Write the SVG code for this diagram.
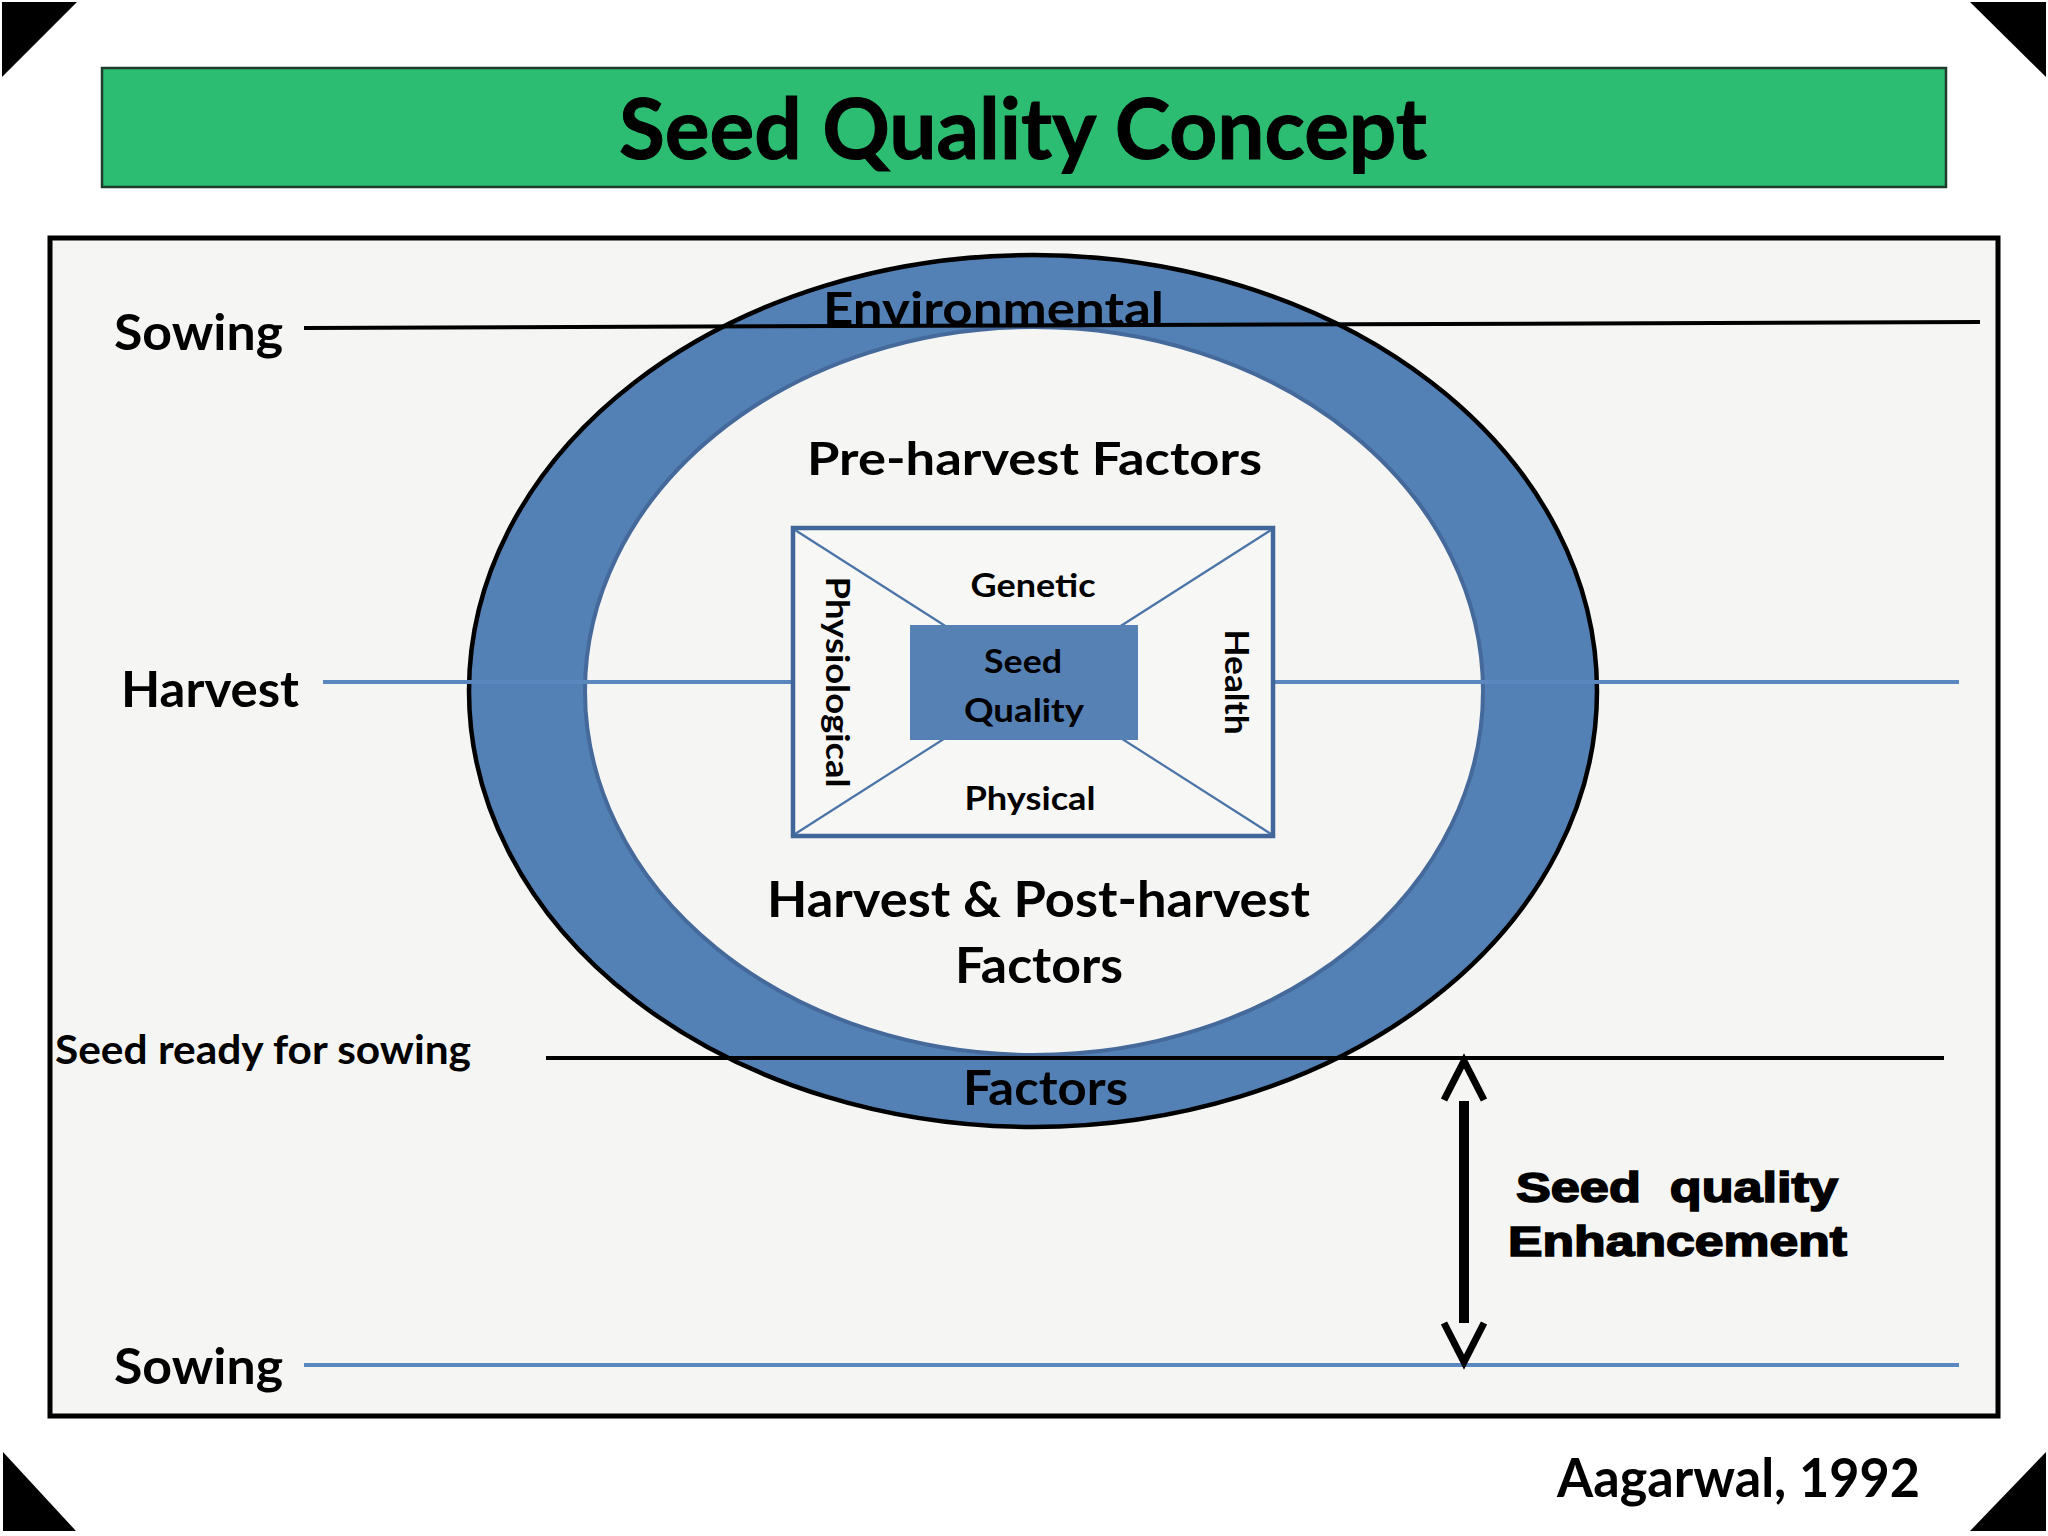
<svg xmlns="http://www.w3.org/2000/svg" width="2048" height="1536" viewBox="0 0 2048 1536">
<defs>
<style>
.t{font-family:Lato,"Open Sans","Liberation Sans",sans-serif;font-weight:700;fill:#000}
.a{font-family:"Liberation Sans",Arial,sans-serif;font-weight:700;fill:#000;stroke:#000;stroke-width:1.6}
.corner{fill:#000}
.bl{stroke:#000;stroke-width:4;fill:none}
.blu{stroke:#5a87bd;stroke-width:4;fill:none}
.diag{stroke:#4a73a8;stroke-width:2.2}
</style>
</defs>
<rect width="2048" height="1536" fill="#ffffff"/>
<g id="corners">
<polygon class="corner" points="2,2 77,2 2,77"/>
<polygon class="corner" points="1970,2 2046,2 2046,77"/>
<polygon class="corner" points="3,1452 3,1531 76,1531"/>
<polygon class="corner" points="2046,1452 2046,1531 1970,1531"/>
</g>
<g id="title">
<rect x="102" y="68" width="1844" height="119" fill="#2dbd72" stroke="#1e3b2c" stroke-width="2.5"/>
<text class="t" x="1023" y="159" font-size="85" text-anchor="middle" textLength="808" lengthAdjust="spacingAndGlyphs" stroke="#000" stroke-width="1">Seed Quality Concept</text>
</g>
<g id="frame">
<rect x="50" y="238" width="1948" height="1178" fill="#f5f5f3" stroke="#000" stroke-width="5"/>
</g>
<g id="outer-ring">
<ellipse cx="1033" cy="691" rx="564" ry="436" fill="#5381b5" stroke="#000" stroke-width="4.5"/>
</g>
<g id="inner-ellipse">
<ellipse cx="1034" cy="691" rx="449" ry="364" fill="#f5f5f3" stroke="#44699a" stroke-width="4"/>
</g>
<g id="connectors">
<line class="bl" x1="304" y1="328" x2="1980" y2="322"/>
<line class="blu" x1="323" y1="682" x2="793" y2="682"/>
<line class="blu" x1="1273" y1="682" x2="1959" y2="682"/>
<line class="bl" x1="546" y1="1058" x2="1944" y2="1058"/>
<line class="blu" x1="304" y1="1365" x2="1959" y2="1365"/>
<g id="arrow" stroke="#000" fill="none">
<path d="M1444,1100 L1464,1061 L1484,1100" stroke-width="7" stroke-linejoin="miter"/>
<line x1="1464" y1="1101" x2="1464" y2="1323" stroke-width="10"/>
<path d="M1444,1323 L1464,1362 L1484,1323" stroke-width="7" stroke-linejoin="miter"/>
</g>
</g>
<g id="quality-box">
<rect x="793" y="528" width="480" height="308" fill="#f7f7f5" stroke="#41679a" stroke-width="4.5"/>
<line class="diag" x1="795" y1="530" x2="1271" y2="834"/>
<line class="diag" x1="1271" y1="530" x2="795" y2="834"/>
<text class="t" x="1033" y="597" font-size="33" text-anchor="middle" textLength="125" lengthAdjust="spacingAndGlyphs">Genetic</text>
<text class="t" x="1030" y="810" font-size="33" text-anchor="middle" textLength="131" lengthAdjust="spacingAndGlyphs">Physical</text>
<text class="t" transform="translate(826,682) rotate(90)" x="0" y="0" font-size="33" text-anchor="middle" textLength="211" lengthAdjust="spacingAndGlyphs">Physiological</text>
<text class="t" transform="translate(1225,682) rotate(90)" x="0" y="0" font-size="33" text-anchor="middle" textLength="105" lengthAdjust="spacingAndGlyphs">Health</text>
</g>
<g id="seed-quality">
<rect x="910" y="625" width="228" height="115" fill="#5681b5"/>
<text class="t" x="1023" y="673" font-size="33" text-anchor="middle" textLength="78" lengthAdjust="spacingAndGlyphs">Seed</text>
<text class="t" x="1024" y="722" font-size="33" text-anchor="middle" textLength="120" lengthAdjust="spacingAndGlyphs">Quality</text>
</g>
<g id="ring-labels">
<text class="t" x="823" y="325" font-size="46" textLength="341" lengthAdjust="spacingAndGlyphs">Environmental</text>
<text class="t" x="963" y="1105" font-size="48" textLength="165" lengthAdjust="spacingAndGlyphs">Factors</text>
</g>
<g id="inner-labels">
<text class="t" x="807" y="475" font-size="46" textLength="455" lengthAdjust="spacingAndGlyphs">Pre-harvest Factors</text>
<text class="t" x="767" y="917" font-size="50" textLength="543" lengthAdjust="spacingAndGlyphs">Harvest &amp; Post-harvest</text>
<text class="t" x="955" y="983" font-size="50" textLength="168" lengthAdjust="spacingAndGlyphs">Factors</text>
</g>
<g id="stage-labels">
<text class="t" x="114" y="350" font-size="50" textLength="169" lengthAdjust="spacingAndGlyphs">Sowing</text>
<text class="t" x="121" y="707" font-size="50" textLength="178" lengthAdjust="spacingAndGlyphs">Harvest</text>
<text class="t" x="55" y="1064" font-size="40" textLength="416" lengthAdjust="spacingAndGlyphs">Seed ready for sowing</text>
<text class="t" x="114" y="1384" font-size="50" textLength="169" lengthAdjust="spacingAndGlyphs">Sowing</text>
</g>
<g id="enhancement">
<text class="a" x="1516" y="1202" font-size="42" textLength="322" lengthAdjust="spacingAndGlyphs" xml:space="preserve">Seed  quality</text>
<text class="a" x="1508" y="1256" font-size="42" textLength="339" lengthAdjust="spacingAndGlyphs">Enhancement</text>
</g>
<g id="citation">
<text class="t" x="1557" y="1497" font-size="54" textLength="363" lengthAdjust="spacingAndGlyphs">Aagarwal, 1992</text>
</g>
</svg>
